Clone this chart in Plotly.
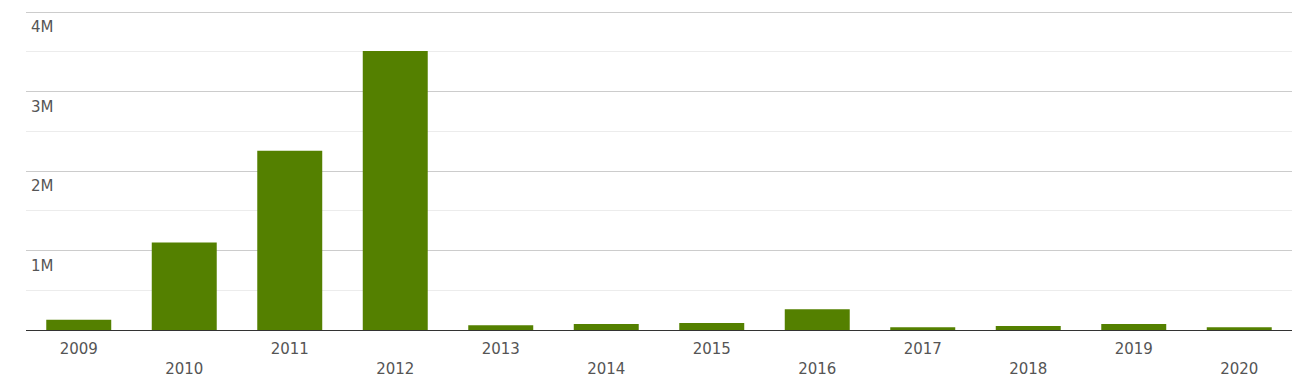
import plotly.graph_objects as go

years = ["2009", "2010", "2011", "2012", "2013", "2014", "2015", "2016", "2017", "2018", "2019", "2020"]
values = [130000, 1100000, 2255000, 3510000, 60000, 74000, 87000, 260000, 36000, 49000, 74000, 36000]
y_tickvals = [1000000, 2000000, 3000000, 4000000]
y_ticktext = ["1M", "2M", "3M", "4M"]

x_ticktext = [y if i % 2 == 0 else "<br>" + y for i, y in enumerate(years)]

fig = go.Figure(go.Bar(x=years, y=values, marker=dict(color="#548000", line=dict(width=0))))

fig.update_layout(
    width=1293, height=384,
    margin=dict(l=26, r=1, t=10, b=54),
    paper_bgcolor="white", plot_bgcolor="white",
    bargap=0.384,
    font=dict(family="DejaVu Sans", size=15, color="#555555"),
    showlegend=False,
)
fig.update_xaxes(
    range=[-0.5, len(years) - 0.5],
    tickvals=years, ticktext=x_ticktext, ticks="", showgrid=False,
    showline=True, linecolor="#333333", linewidth=1,
    ticklabelstandoff=5,
    tickfont=dict(size=15, color="#555555"),
)
fig.update_yaxes(
    range=[0, 4025200], tickvals=y_tickvals, ticktext=y_ticktext,
    showgrid=True, gridcolor="#cccccc", gridwidth=1,
    minor=dict(dtick=500000, showgrid=True, gridcolor="#ececec", gridwidth=1),
    ticklabelposition="inside", ticklabelshift=15, ticklabelstandoff=2,
    zeroline=False, showline=False,
    tickfont=dict(size=15, color="#555555"),
)

fig.write_html("out.html")
